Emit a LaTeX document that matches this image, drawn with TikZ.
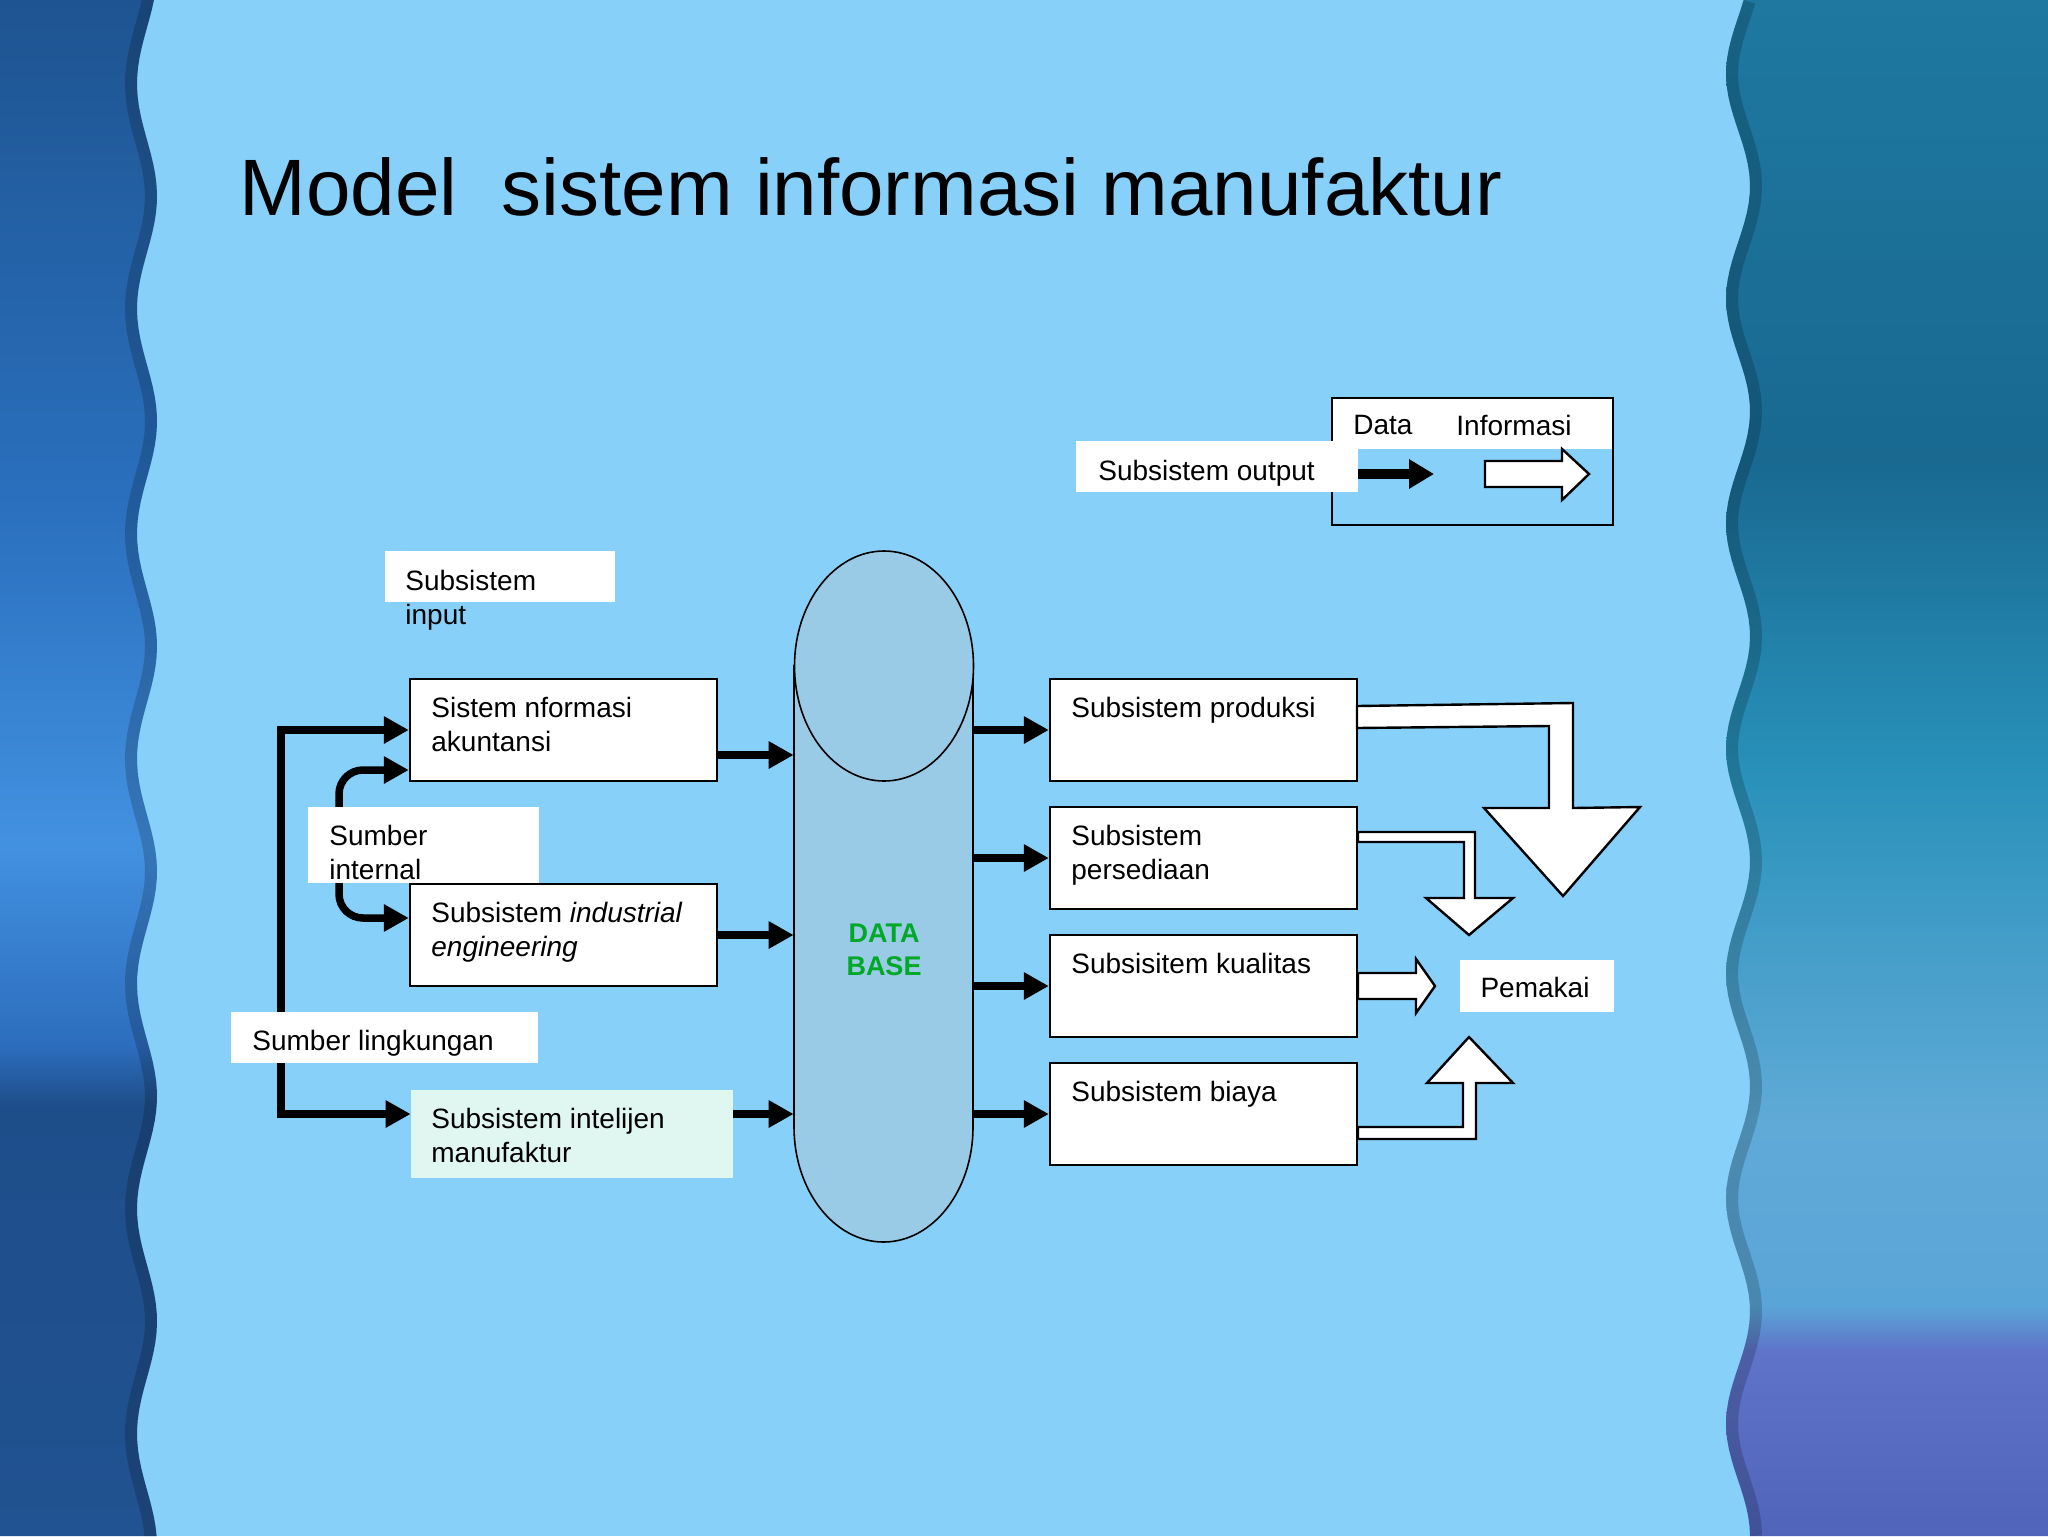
\documentclass[tikz,border=0pt]{standalone}
\usepackage{fontspec}
\setmainfont{Liberation Sans}
\usetikzlibrary{arrows.meta,fit,calc}
\definecolor{bgblue}{RGB}{134,208,250}
\definecolor{dbfill}{RGB}{154,203,230}
\definecolor{mint}{RGB}{224,246,240}
\definecolor{dbgreen}{RGB}{0,168,40}
\definecolor{lsA}{RGB}{33,82,145}
\definecolor{lsB}{RGB}{30,78,138}
\definecolor{lsC}{RGB}{45,110,190}
\definecolor{lsD}{RGB}{66,145,224}
\definecolor{lsE}{RGB}{42,112,190}
\definecolor{lsF}{RGB}{30,84,145}
\definecolor{rsA}{RGB}{80,100,185}
\definecolor{rsB}{RGB}{95,115,200}
\definecolor{rsC}{RGB}{90,165,215}
\definecolor{rsD}{RGB}{95,170,215}
\definecolor{rsE}{RGB}{40,145,185}
\definecolor{rsF}{RGB}{25,105,145}
\definecolor{rsG}{RGB}{30,120,160}
\pgfdeclareverticalshading{leftsh}{100bp}{color(0bp)=(lsA); color(25bp)=(lsA); color(39bp)=(lsB); color(41bp)=(lsC); color(47.5bp)=(lsD); color(58.5bp)=(lsE); color(75bp)=(lsF); color(100bp)=(lsF)}
\pgfdeclareverticalshading{rightsh}{100bp}{color(0bp)=(rsA); color(25bp)=(rsA); color(31bp)=(rsB); color(32.5bp)=(rsC); color(38.5bp)=(rsD); color(50bp)=(rsE); color(60bp)=(rsF); color(75bp)=(rsG); color(100bp)=(rsG)}
\begin{document}
\begin{tikzpicture}[x=0.5pt,y=-0.5pt,
  box/.style={draw=black, fill=white, line width=1.2pt, inner sep=0pt},
  wlabel/.style={fill=white, inner sep=0pt},
  txt/.style={anchor=north west, inner sep=0pt, align=left, font=\fontsize{14}{17}\selectfont},
  tarr/.style={line width=3.75pt, -{Triangle[length=12.5pt,width=13pt]}},
  tboth/.style={line width=3.75pt, {Triangle[length=12.5pt,width=13pt]}-{Triangle[length=12.5pt,width=13pt]}},
  blockarrow/.style={fill=white, draw=black, line width=1.2pt, line join=miter}]
\useasboundingbox (0,0) rectangle (2048,1536);
% background
\fill[bgblue] (0,0) rectangle (2048,1536);
\shade[shading=leftsh] (0,0) -- plot[domain=0:1536,samples=160,variable=\t] ({147+10*sin((\t-140)*1.6)},\t) -- (0,1536) -- cycle;
\begin{scope}
\clip (0,0) -- plot[domain=0:1536,samples=160,variable=\t] ({147+10*sin((\t-140)*1.6)},\t) -- (0,1536) -- cycle;
\draw[line width=12pt, black, opacity=0.18] plot[domain=0:1536,samples=160,variable=\t] ({147+10*sin((\t-140)*1.6)},\t);
\end{scope}
\shade[shading=rightsh] (2048,0) -- plot[domain=0:1536,samples=160,variable=\t] ({1738+12*sin((\t-130)*1.6)},\t) -- (2048,1536) -- cycle;
\begin{scope}
\clip (2048,0) -- plot[domain=0:1536,samples=160,variable=\t] ({1738+12*sin((\t-130)*1.6)},\t) -- (2048,1536) -- cycle;
\draw[line width=12pt, black, opacity=0.18] plot[domain=0:1536,samples=160,variable=\t] ({1738+12*sin((\t-130)*1.6)},\t);
\end{scope}

% title
\node[anchor=base west, inner sep=0pt, font=\fontsize{40}{48}\selectfont] (title) at (239,215) {Model~ sistem informasi manufaktur};

% legend
\node[wlabel, fit={(1332,398) (1613,449)}] (legband) {};
\node[draw=black, line width=1.2pt, inner sep=0pt, fit={(1332,398) (1613,525)}] (legend) {};
\node[wlabel, fit={(1076,441) (1358,492)}] (outbox) {};
\node[txt] (outtext) at (1098,460) {Subsistem output};
\node[txt] (datatext) at (1353,415) {Data};
\node[txt] (infotext) at (1456,415) {Informasi};
\coordinate (d1) at (1358,474);
\coordinate (d2) at (1434,474);
\draw[line width=5pt, -{Triangle[length=12.5pt,width=14pt]}] (d1) -- (d2);
\draw[blockarrow] (1485,461) -- (1562,461) -- (1562,449) -- (1589,474) -- (1562,500) -- (1562,487) -- (1485,487) -- cycle;

% database
\node[inner sep=0pt, fit={(794,551) (973,1242)}] (DB) {};
\filldraw[fill=dbfill, draw=black, line width=0.8pt] (794,666) -- (794,1127) arc[start angle=180, end angle=360, x radius=44.75pt, y radius=57.5pt] -- (973,666) -- cycle;
\draw[fill=dbfill, draw=black, line width=0.8pt] (884,666) ellipse [x radius=44.75pt, y radius=57.5pt];
\node[align=center, inner sep=0pt, text=dbgreen, font=\bfseries\fontsize{13.5}{16.5}\selectfont] (dbtext) at (884,950) {DATA\\BASE};

% left boxes
\node[box, fit={(410,679) (717,781)}] (A) {};
\node[box, fit={(410,884) (717,986)}] (B) {};
\node[fill=mint, inner sep=0pt, fit={(411,1090) (733,1178)}] (C) {};

% right boxes
\node[box, fit={(1050,679) (1357,781)}] (R1) {};
\node[box, fit={(1050,807) (1357,909)}] (R2) {};
\node[box, fit={(1050,935) (1357,1037)}] (R3) {};
\node[box, fit={(1050,1063) (1357,1165)}] (R4) {};

% connectors
\draw[tarr] ([yshift=-12.5pt]A.east) -- ([yshift=-12.5pt]A.east -| DB.west);
\draw[tarr] (B.east) -- (B.east -| DB.west);
\draw[tarr] ([yshift=10pt]C.east) -- ([yshift=10pt]C.east -| DB.west);
\draw[tarr] (DB.east |- R1.west) -- (R1.west);
\draw[tarr] (DB.east |- R2.west) -- (R2.west);
\draw[tarr] (DB.east |- R3.west) -- (R3.west);
\draw[tarr] (DB.east |- R4.west) -- (R4.west);

\coordinate (Lt) at (281,730);
\coordinate (Lb) at (281,1114);
\draw[tboth, line join=miter] (A.west) -- (Lt) -- (Lb) -- (Lb -| C.west);
\coordinate (It) at (339,770);
\coordinate (Ib) at (339,918);
\draw[tboth, rounded corners=12pt] ([yshift=-20pt]A.west) -- (It) -- (Ib) -- ([yshift=8.5pt]B.west);

% labels on blue
\node[wlabel, fit={(385,551) (615,602)}] (inbox) {};
\node[txt] (intext) at (405,570) {Subsistem\\input};
\node[wlabel, fit={(308,807) (539,883)}] (intbox) {};
\node[txt] (inttext) at (329,825) {Sumber\\internal};
\node[wlabel, fit={(231,1012) (538,1063)}] (lingbox) {};
\node[txt] (lingtext) at (252,1030) {Sumber lingkungan};

% box texts
\node[txt] (Atext) at (431,697) {Sistem nformasi\\akuntansi};
\node[txt] (Btext) at (431,902) {Subsistem \textit{industrial}\\\textit{engineering}};
\node[txt] (Ctext) at (431,1108) {Subsistem intelijen\\manufaktur};
\node[txt] (R1text) at (1071,697) {Subsistem produksi};
\node[txt] (R2text) at (1071,825) {Subsistem\\persediaan};
\node[txt] (R3text) at (1071,953) {Subsisitem kualitas};
\node[txt] (R4text) at (1071,1081) {Subsistem biaya};

% block arrows to user
\draw[blockarrow] (1357,706) -- (1573,703) -- (1573,808) -- (1640,807) -- (1563,896) -- (1484,808) -- (1549,808) -- (1549,726) -- (1357,728) -- cycle;
\draw[blockarrow] (1358,832) -- (1475,832) -- (1475,898) -- (1513,898) -- (1469,935) -- (1426,898) -- (1464,898) -- (1464,842) -- (1358,842) -- cycle;
\draw[blockarrow] (1358,973) -- (1416,973) -- (1416,959) -- (1435,986) -- (1416,1013) -- (1416,999) -- (1358,999) -- cycle;
\draw[blockarrow] (1358,1127) -- (1463,1127) -- (1463,1083) -- (1427,1083) -- (1469,1037) -- (1513,1083) -- (1476,1083) -- (1476,1139) -- (1358,1139) -- cycle;

\node[wlabel, fit={(1460,960) (1614,1012)}] (pem) {};
\node[inner sep=0pt, font=\fontsize{14}{17}\selectfont] (pemtext) at (1535,987) {Pemakai};
\end{tikzpicture}
\end{document}
